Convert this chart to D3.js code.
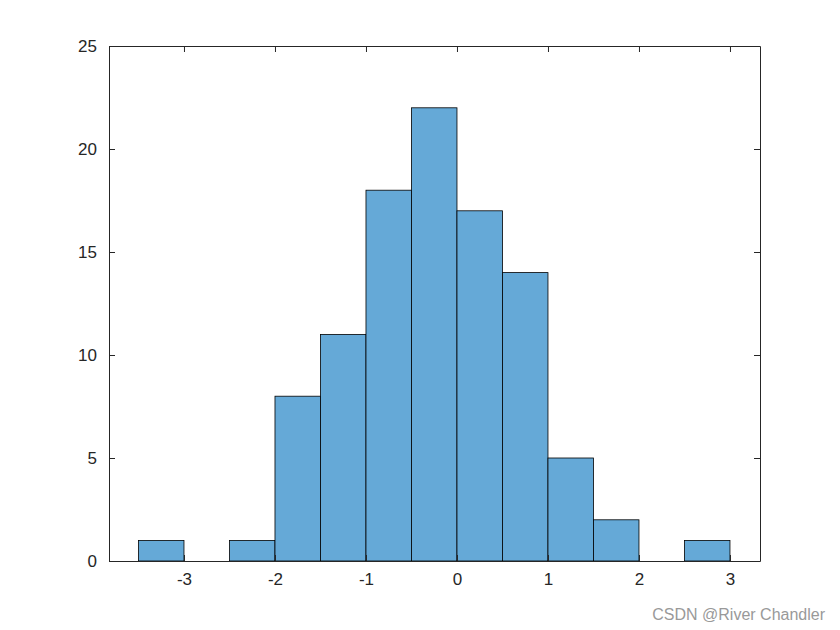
<!DOCTYPE html>
<html><head><meta charset="utf-8">
<script src="https://cdn.jsdelivr.net/npm/d3@7"></script>
<style>body{margin:0;background:#fff}text{font-family:"Liberation Sans",Arial,sans-serif}</style>
</head><body>
<svg width="840" height="630"></svg>
<script>
// bin edges and counts
var binStart = [-3.5,-3,-2.5,-2,-1.5,-1,-0.5,0,0.5,1,1.5,2,2.5];
var counts = [1,0,1,8,11,18,22,17,14,5,2,0,1];
var binWidth = 0.5;
var xTicks = [-3,-2,-1,0,1,2,3];
var yTicks = [0,5,10,15,20,25];

var svg = d3.select("svg"),
    pLeft = 109, pRight = 760, pTop = 46, pBottom = 561;

var x = d3.scaleLinear().domain([-3.824, 3.33]).range([pLeft, pRight]);
var y = d3.scaleLinear().domain([0, 25]).range([pBottom, pTop]);
var fmt = function(d){ return String(d); };

svg.selectAll(".bar").data(binStart.map(function(s,i){return {s:s,c:counts[i]};}).filter(function(d){return d.c>0;}))
  .enter().append("rect")
  .attr("x", function(d){return x(d.s);})
  .attr("y", function(d){return y(d.c);})
  .attr("width", function(d){return x(d.s+binWidth)-x(d.s);})
  .attr("height", function(d){return y(0)-y(d.c);})
  .attr("fill", "#65a9d7").attr("stroke", "#000").attr("stroke-width", 0.8);

function style(g){
  g.select(".domain").attr("stroke","#262626");
  g.selectAll(".tick line").attr("stroke","#262626");
  g.selectAll("text").attr("fill","#262626").style("font-size","17px").style("font-family","Liberation Sans, Arial, sans-serif");
}
svg.append("g").attr("transform","translate(0,"+pBottom+")")
  .call(d3.axisBottom(x).tickValues(xTicks).tickFormat(fmt).tickSizeInner(-6).tickSizeOuter(0).tickPadding(12)).call(style);
svg.append("g").attr("transform","translate(0,"+pTop+")")
  .call(d3.axisTop(x).tickValues(xTicks).tickSizeInner(-6).tickSizeOuter(0).tickFormat("")).call(style);
svg.append("g").attr("transform","translate("+pLeft+",0)")
  .call(d3.axisLeft(y).tickValues(yTicks).tickFormat(fmt).tickSizeInner(-6).tickSizeOuter(0).tickPadding(12)).call(style);
svg.append("g").attr("transform","translate("+pRight+",0)")
  .call(d3.axisRight(y).tickValues(yTicks).tickSizeInner(-6).tickSizeOuter(0).tickFormat("")).call(style);

svg.append("text").attr("x", 825).attr("y", 620).attr("text-anchor","end")
  .attr("fill","#999").style("font-size","16px").text("CSDN @River Chandler");
</script>
</body></html>
